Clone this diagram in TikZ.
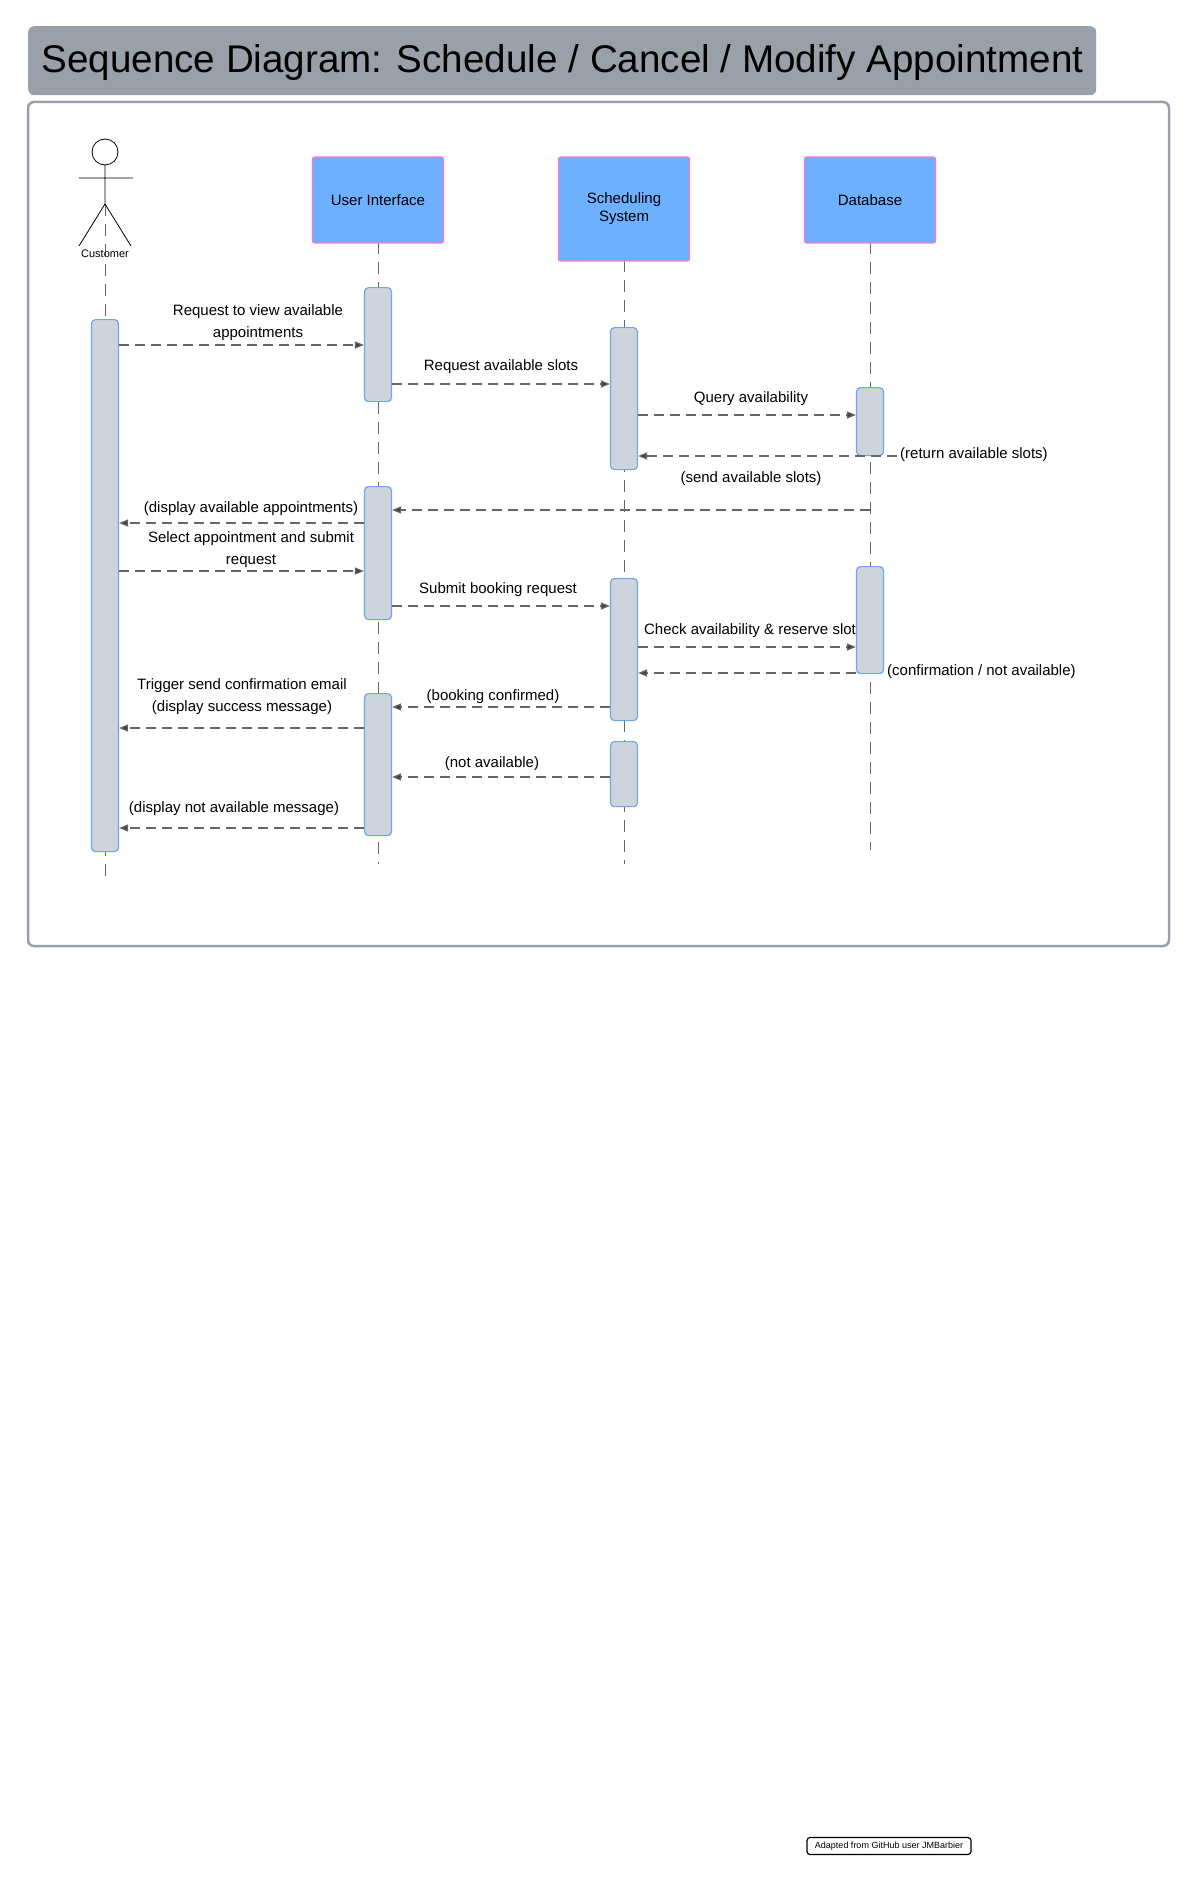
\documentclass[tikz,border=0pt]{standalone}
\usepackage{fontspec}
\setmainfont{Liberation Sans}
\usetikzlibrary{arrows.meta}
\definecolor{titlegray}{HTML}{9AA0A9}
\definecolor{boxblue}{HTML}{6CB0FF}
\definecolor{boxpink}{HTML}{FF77CC}
\definecolor{actfill}{HTML}{CED4DB}
\definecolor{actline}{HTML}{6AA8F0}
\definecolor{msggray}{HTML}{666666}
\tikzset{
  partbox/.style={draw=boxpink,line width=1.2pt,fill=boxblue,rounded corners=2pt,font=\fontsize{15}{18}\selectfont,align=center},
  actbox/.style={draw=actline,line width=1.2pt,fill=actfill,rounded corners=4pt},
  lifeline/.style={draw=msggray,line width=0.8pt,dash pattern=on 12pt off 8pt},
  msg/.style={draw=msggray,line width=1.2pt,dash pattern=on 10pt off 6pt,-{Triangle[length=9pt,width=7pt,fill=black!75]}},
  lbl/.style={font=\fontsize{15}{22}\selectfont,align=center,inner sep=1pt},
}
\begin{document}
\begin{tikzpicture}[x=1pt,y=-1pt]
\useasboundingbox (0,0) rectangle (1200,1886);
% title
\node[fill=titlegray,rounded corners=6pt,minimum width=1068pt,minimum height=69pt,anchor=north west,inner sep=0pt] (title) at (28,26) {};
\node[anchor=west,font=\fontsize{38.6}{42}\selectfont] (titletext) at (38,63) {Sequence Diagram: Schedule / Cancel / Modify Appointment};
% frame
\draw[titlegray,line width=2.5pt,rounded corners=6pt] (28,102) rectangle (1169,946);
% lifelines
\coordinate (cu0) at (105,204); \coordinate (cu1) at (105,876);
\coordinate (ui0) at (378,242); \coordinate (ui1) at (378,864);
\coordinate (sc0) at (624,260); \coordinate (sc1) at (624,864);
\coordinate (db0) at (870,242); \coordinate (db1) at (870,850);
\draw[lifeline] (cu0) -- (cu1);
\draw[lifeline] (ui0) -- (ui1);
\draw[lifeline] (sc0) -- (sc1);
\draw[lifeline] (db0) -- (db1);
% actor
\draw[line width=0.8pt] (105,152) circle (13);
\draw[line width=0.8pt] (105,165) -- (105,204) (79,178) -- (133,178) (105,204) -- (79,246) (105,204) -- (131,246);
\node[font=\fontsize{11}{13}\selectfont] (custlbl) at (105,254) {Customer};
% participants
\node[partbox,minimum width=131pt,minimum height=86pt] (ui) at (378,200) {User Interface};
\node[partbox,minimum width=131pt,minimum height=104pt] (sched) at (624,209) {Scheduling\\System};
\node[partbox,minimum width=131pt,minimum height=86pt] (db) at (870,200) {Database};
% activations
\newcommand{\act}[4]{\node[actbox,minimum width=27pt,minimum height=#4-#3,inner sep=0pt,anchor=north] (#1) at (#2,#3) {};}
\act{ca}{105}{319}{851}
\act{ua}{378}{287}{401}
\act{ub}{378}{486}{619}
\act{uc}{378}{693}{835}
\act{sa}{624}{327}{469}
\act{sb}{624}{578}{720}
\act{sd}{624}{741}{806}
\act{da}{870}{387}{455}
\act{dbb}{870}{566}{673}
% messages
\draw[msg] (ca.east |- 0,345) -- (ua.west |- 0,345);
\node[lbl] (m1) at (258,323) {Request to view available\\appointments};
\draw[msg] (ua.east |- 0,384) -- (sa.west |- 0,384);
\node[lbl] (m2) at (501,367) {Request available slots};
\draw[msg] (sa.east |- 0,415) -- (da.west |- 0,415);
\node[lbl] (m3) at (751,399) {Query availability};
\coordinate (r4) at (897,456);
\draw[msg] (r4) -- (sa.east |- 0,456);
\node[lbl,anchor=west] (m4) at (899,455) {(return available slots)};
\coordinate (r5) at (870,510);
\draw[msg] (r5) -- (ub.east |- 0,510);
\node[lbl] (m5) at (751,479) {(send available slots)};
\draw[msg] (ub.west |- 0,523) -- (ca.east |- 0,523);
\node[lbl] (m6) at (251,509) {(display available appointments)};
\draw[msg] (ca.east |- 0,571) -- (ub.west |- 0,571);
\node[lbl] (m7) at (251,550) {Select appointment and submit\\request};
\draw[msg] (ub.east |- 0,606) -- (sb.west |- 0,606);
\node[lbl] (m8) at (498,590) {Submit booking request};
\draw[msg] (sb.east |- 0,647) -- (dbb.west |- 0,647);
\node[lbl] (m9) at (750,631) {Check availability \& reserve slot};
\draw[msg] (dbb.west |- 0,673) -- (sb.east |- 0,673);
\node[lbl,anchor=west] (m10) at (886,672) {(confirmation / not available)};
\draw[msg] (sb.west |- 0,707) -- (uc.east |- 0,707);
\node[lbl] (m11) at (493,697) {(booking confirmed)};
\draw[msg] (uc.west |- 0,728) -- (ca.east |- 0,728);
\node[lbl] (m12) at (242,697) {Trigger send confirmation email\\(display success message)};
\draw[msg] (sd.west |- 0,777) -- (uc.east |- 0,777);
\node[lbl] (m13) at (492,764) {(not available)};
\draw[msg] (uc.west |- 0,828) -- (ca.east |- 0,828);
\node[lbl] (m14) at (234,809) {(display not available message)};
% footer
\node[draw,line width=1.2pt,rounded corners=3pt,minimum width=164pt,minimum height=17pt,inner sep=0pt,font=\fontsize{9}{10}\selectfont] (foot) at (889,1846) {Adapted from GitHub user JMBarbier};
\end{tikzpicture}
\end{document}
